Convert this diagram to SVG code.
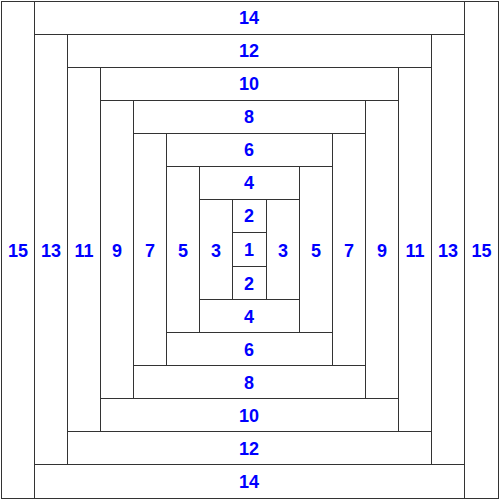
<svg xmlns="http://www.w3.org/2000/svg" width="500" height="500" viewBox="0 0 500 500">
<style>
rect{fill:#fff;stroke:#333;stroke-width:1}
text{font-family:"Liberation Sans",Arial,sans-serif;font-weight:bold;font-size:18px;fill:#0000ff;text-anchor:middle}
</style>
<rect x="0" y="0" width="500" height="500" style="stroke:none"/>
<g id="p15l"><rect x="1.5" y="1.5" width="33" height="497"/><text x="18" y="256.5">15</text></g>
<g id="p15r"><rect x="464.5" y="1.5" width="34" height="497"/><text x="481.5" y="256.5">15</text></g>
<g id="p14t"><rect x="34.5" y="1.5" width="430" height="33"/><text x="249" y="24">14</text></g>
<g id="p14b"><rect x="34.5" y="464.5" width="430" height="34"/><text x="249" y="488">14</text></g>
<g id="p13l"><rect x="34.5" y="34.5" width="33" height="430"/><text x="51" y="256.5">13</text></g>
<g id="p13r"><rect x="431.5" y="34.5" width="33" height="430"/><text x="448" y="256.5">13</text></g>
<g id="p12t"><rect x="67.5" y="34.5" width="364" height="33"/><text x="249" y="57">12</text></g>
<g id="p12b"><rect x="67.5" y="431.5" width="364" height="33"/><text x="249" y="454.5">12</text></g>
<g id="p11l"><rect x="67.5" y="67.5" width="33" height="364"/><text x="84" y="256.5">11</text></g>
<g id="p11r"><rect x="398.5" y="67.5" width="33" height="364"/><text x="415" y="256.5">11</text></g>
<g id="p10t"><rect x="100.5" y="67.5" width="298" height="33"/><text x="249" y="90">10</text></g>
<g id="p10b"><rect x="100.5" y="398.5" width="298" height="33"/><text x="249" y="421.5">10</text></g>
<g id="p9l"><rect x="100.5" y="100.5" width="33" height="298"/><text x="117" y="256.5">9</text></g>
<g id="p9r"><rect x="365.5" y="100.5" width="33" height="298"/><text x="382" y="256.5">9</text></g>
<g id="p8t"><rect x="133.5" y="100.5" width="232" height="33"/><text x="249" y="123">8</text></g>
<g id="p8b"><rect x="133.5" y="365.5" width="232" height="33"/><text x="249" y="388.5">8</text></g>
<g id="p7l"><rect x="133.5" y="133.5" width="33" height="232"/><text x="150" y="256.5">7</text></g>
<g id="p7r"><rect x="332.5" y="133.5" width="33" height="232"/><text x="349" y="256.5">7</text></g>
<g id="p6t"><rect x="166.5" y="133.5" width="166" height="33"/><text x="249" y="156">6</text></g>
<g id="p6b"><rect x="166.5" y="332.5" width="166" height="33"/><text x="249" y="355.5">6</text></g>
<g id="p5l"><rect x="166.5" y="166.5" width="33" height="166"/><text x="183" y="256.5">5</text></g>
<g id="p5r"><rect x="299.5" y="166.5" width="33" height="166"/><text x="316" y="256.5">5</text></g>
<g id="p4t"><rect x="199.5" y="166.5" width="100" height="33"/><text x="249" y="189">4</text></g>
<g id="p4b"><rect x="199.5" y="299.5" width="100" height="33"/><text x="249" y="322.5">4</text></g>
<g id="p3l"><rect x="199.5" y="199.5" width="33" height="100"/><text x="216" y="256.5">3</text></g>
<g id="p3r"><rect x="266.5" y="199.5" width="33" height="100"/><text x="283" y="256.5">3</text></g>
<g id="p2t"><rect x="232.5" y="199.5" width="34" height="33"/><text x="249" y="222">2</text></g>
<g id="p2b"><rect x="232.5" y="266.5" width="34" height="33"/><text x="249" y="289.5">2</text></g>
<g id="p1"><rect x="232.5" y="232.5" width="34" height="34"/><text x="249" y="256">1</text></g>
<g id="connectors"></g>
</svg>
